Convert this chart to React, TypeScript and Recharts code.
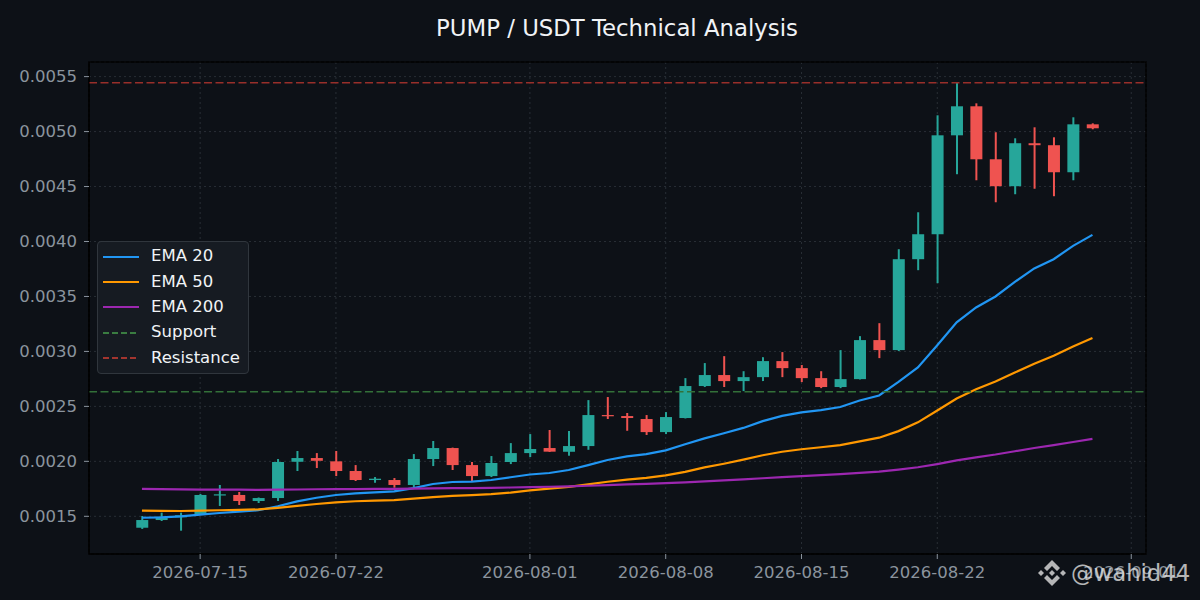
import React from "react"
import {
  ComposedChart, Bar, Line, XAxis, YAxis, CartesianGrid,
  ReferenceLine, ReferenceArea, Legend,
} from "recharts"

document.body.style.margin = "0"
document.body.style.background = "#0d1117"

// daily candles, 2026-07-12 .. 2026-08-30 (x = day index)
const OPEN = [
  0.001396, 0.001466, 0.001491, 0.001521, 0.00169, 0.001694, 0.001639, 0.001666, 0.001996, 0.00203,
  0.002, 0.001912, 0.00183, 0.00183, 0.001785, 0.002021, 0.002121, 0.001966, 0.001866, 0.001994,
  0.002075, 0.002121, 0.002087, 0.002139, 0.002421, 0.002412, 0.002385, 0.002266, 0.002394, 0.002685,
  0.002785, 0.00273, 0.002766, 0.002912, 0.002848, 0.002757, 0.002676, 0.002748, 0.003103, 0.003012,
  0.003839, 0.004066, 0.004966, 0.00523, 0.004748, 0.004503, 0.004894, 0.004876, 0.00463, 0.005066,
]
const HIGH = [
  0.001503, 0.001533, 0.001533, 0.001703, 0.001785, 0.001721, 0.001671, 0.002021, 0.002094, 0.002075,
  0.002094, 0.001966, 0.001857, 0.001848, 0.002066, 0.002185, 0.002125, 0.001994, 0.002048, 0.002166,
  0.002248, 0.002285, 0.002276, 0.002557, 0.002585, 0.00244, 0.002421, 0.002448, 0.002757, 0.002894,
  0.002957, 0.00282, 0.002948, 0.002994, 0.002876, 0.00282, 0.003012, 0.003139, 0.003257, 0.00393,
  0.004266, 0.005148, 0.005448, 0.005257, 0.004994, 0.004939, 0.005039, 0.004948, 0.00513, 0.005075,
]
const LOW = [
  0.001385, 0.001457, 0.001369, 0.001516, 0.001594, 0.001603, 0.001621, 0.001639, 0.001912, 0.001939,
  0.001866, 0.001821, 0.001805, 0.00176, 0.001766, 0.001957, 0.001921, 0.001821, 0.001857, 0.001975,
  0.002039, 0.002085, 0.002051, 0.002105, 0.002385, 0.002278, 0.00224, 0.002248, 0.00239, 0.002676,
  0.002676, 0.002639, 0.00273, 0.002766, 0.002721, 0.002666, 0.002666, 0.002745, 0.002939, 0.003003,
  0.003739, 0.003621, 0.004612, 0.004557, 0.004357, 0.00443, 0.00448, 0.004412, 0.004557, 0.005021,
]
const CLOSE = [
  0.001466, 0.001496, 0.001509, 0.001694, 0.0017, 0.001639, 0.001666, 0.001994, 0.00203, 0.002005,
  0.001912, 0.00183, 0.001842, 0.001785, 0.002021, 0.002121, 0.001966, 0.001866, 0.001985, 0.002075,
  0.002112, 0.002088, 0.002139, 0.002421, 0.002412, 0.002394, 0.002266, 0.002403, 0.002685, 0.002785,
  0.00273, 0.002766, 0.002912, 0.002848, 0.002757, 0.002676, 0.002748, 0.003103, 0.003012, 0.003839,
  0.004066, 0.004966, 0.00523, 0.004748, 0.004503, 0.004894, 0.004876, 0.00463, 0.005066, 0.00503,
]
const EMA20 = [
  0.001487, 0.001491, 0.0015, 0.001515, 0.00153, 0.001542, 0.001555, 0.001591, 0.001636, 0.001669,
  0.001694, 0.001709, 0.001718, 0.001727, 0.001757, 0.001794, 0.001812, 0.001815, 0.00183, 0.001855,
  0.00188, 0.001894, 0.001921, 0.001966, 0.002012, 0.002045, 0.002066, 0.0021, 0.002155, 0.002209,
  0.002256, 0.002304, 0.002366, 0.002413, 0.002445, 0.002466, 0.002494, 0.002554, 0.002599, 0.002723,
  0.002855, 0.003057, 0.003264, 0.0034, 0.0035, 0.003633, 0.003755, 0.003839, 0.00396, 0.00406,
]
const EMA50 = [
  0.001551, 0.001549, 0.001548, 0.001551, 0.001555, 0.001558, 0.001563, 0.001577, 0.001594, 0.001612,
  0.001627, 0.001637, 0.001642, 0.001648, 0.00166, 0.001675, 0.001686, 0.001693, 0.001702, 0.001716,
  0.001735, 0.001752, 0.001768, 0.001791, 0.001814, 0.001834, 0.00185, 0.001872, 0.001904, 0.001945,
  0.001978, 0.002015, 0.002055, 0.002087, 0.00211, 0.002128, 0.002148, 0.002182, 0.002215, 0.002275,
  0.002355, 0.002462, 0.002572, 0.002655, 0.002727, 0.002808, 0.002888, 0.00296, 0.003045, 0.003122,
]
const EMA200 = [
  0.00175, 0.001747, 0.001745, 0.001743, 0.001743, 0.001742, 0.001741, 0.001742, 0.001744, 0.001746,
  0.001747, 0.001748, 0.001749, 0.001749, 0.001751, 0.001754, 0.001756, 0.001757, 0.001759, 0.001762,
  0.001766, 0.001769, 0.001773, 0.001778, 0.001784, 0.00179, 0.001795, 0.001801, 0.001809, 0.001818,
  0.001827, 0.001836, 0.001846, 0.001856, 0.001865, 0.001874, 0.001883, 0.001895, 0.001906, 0.001925,
  0.001946, 0.001975, 0.002008, 0.002036, 0.002062, 0.002092, 0.002121, 0.002147, 0.002176, 0.002204,
]
const SUPPORT = 0.002633
const RESISTANCE = 0.005445

const TICK_DAYS = [3, 10, 20, 27, 34, 41, 51]
const TICK_LABELS = ["2026-07-15", "2026-07-22", "2026-08-01", "2026-08-08", "2026-08-15", "2026-08-22", "2026-09-01"]
const Y_TICKS = [0.0015, 0.002, 0.0025, 0.003, 0.0035, 0.004, 0.0045, 0.005, 0.0055]

const LEGEND = [
  { name: "EMA 20", color: "#2196f3", dashed: false },
  { name: "EMA 50", color: "#ff9800", dashed: false },
  { name: "EMA 200", color: "#9c27b0", dashed: false },
  { name: "Support", color: "#3a7d41", dashed: true },
  { name: "Resistance", color: "#a3352f", dashed: true },
]

const data = OPEN.map((o, i) => ({
  day: i, open: o, high: HIGH[i], low: LOW[i], close: CLOSE[i],
  ema20: EMA20[i], ema50: EMA50[i], ema200: EMA200[i],
}))

const X_DOMAIN: [number, number] = [-2.73, 51.76]
const Y_DOMAIN: [number, number] = [0.001157, 0.005633]
const FONT = "DejaVu Sans, sans-serif"
const TICK_COLOR = "#8b949e"

function Candle(props: any) {
  const { x, y, width, height, payload } = props
  const { open, close, high, low } = payload
  const top = Math.min(y, y + height)
  const h = Math.abs(height)
  const k = h / (high - low)
  const py = (v: number) => top + (high - v) * k
  const color = close >= open ? "#26a69a" : "#ef5350"
  const cx = x + width / 2
  const bTop = py(Math.max(open, close))
  const bBot = py(Math.min(open, close))
  return (
    <g>
      <line x1={cx} x2={cx} y1={top} y2={top + h} stroke={color} strokeWidth={2} />
      <rect x={x} y={bTop} width={width} height={Math.max(bBot - bTop, 1.2)} fill={color} />
    </g>
  )
}

function LegendBox() {
  return (
    <div style={{
      width: 150, height: 129, background: "#161b22", border: "1px solid #30363d",
      borderRadius: 4, paddingTop: 2, boxSizing: "content-box", fontFamily: FONT,
    }}>
      {LEGEND.map((it) => (
        <div key={it.name} style={{ display: "flex", alignItems: "center", height: 25.3 }}>
          <svg width={48} height={6} style={{ marginLeft: 5, marginRight: 0 }}>
            <line x1={0} x2={36} y1={3} y2={3} stroke={it.color} strokeWidth={2.2}
              strokeDasharray={it.dashed ? "6 3" : undefined} />
          </svg>
          <span style={{ color: "#f0f3f6", fontSize: 16.5, lineHeight: 1 }}>{it.name}</span>
        </div>
      ))}
    </div>
  )
}

export default function App() {
  return (
    <div style={{ position: "relative", width: 1200, height: 600, background: "#0d1117" }}>
      <ComposedChart width={1200} height={600} data={data}
        margin={{ top: 62, right: 54, bottom: 0, left: 0 }}>
        <CartesianGrid stroke="#30363d" strokeDasharray="2 3" strokeOpacity={0.8} />
        <XAxis
          dataKey="day" type="number" domain={X_DOMAIN} allowDataOverflow
          ticks={TICK_DAYS} interval={0} height={46}
          tickFormatter={(v) => TICK_LABELS[TICK_DAYS.indexOf(v)]}
          tick={{ fontSize: 16.5, fill: TICK_COLOR, fontFamily: FONT }}
          axisLine={{ stroke: "#000" }} tickLine={{ stroke: TICK_COLOR }}
          tickSize={5} tickMargin={7}
        />
        <YAxis
          type="number" domain={Y_DOMAIN} allowDataOverflow ticks={Y_TICKS} width={89}
          tickFormatter={(v) => v.toFixed(4)}
          tick={{ fontSize: 16.5, fill: TICK_COLOR, fontFamily: FONT }}
          axisLine={{ stroke: "#000" }} tickLine={{ stroke: TICK_COLOR }}
          tickSize={5} tickMargin={7}
        />
        <Bar dataKey={(d: any) => [d.low, d.high]} barSize={12} shape={Candle} isAnimationActive={false} />
        <Line dataKey="ema20" stroke="#2196f3" strokeWidth={2.2} dot={false} activeDot={false} isAnimationActive={false} />
        <Line dataKey="ema50" stroke="#ff9800" strokeWidth={2.2} dot={false} activeDot={false} isAnimationActive={false} />
        <Line dataKey="ema200" stroke="#9c27b0" strokeWidth={2.2} dot={false} activeDot={false} isAnimationActive={false} />
        <ReferenceLine y={SUPPORT} stroke="#337039" strokeWidth={1.5} strokeDasharray="8 3.5" />
        <ReferenceLine y={RESISTANCE} stroke="#982f2a" strokeWidth={1.5} strokeDasharray="8 3.5" />
        <ReferenceArea x1={X_DOMAIN[0]} x2={X_DOMAIN[1]} y1={Y_DOMAIN[0]} y2={Y_DOMAIN[1]}
          fill="none" stroke="#000" strokeWidth={1.5} />
        <Legend layout="vertical" align="center" verticalAlign="middle"
          wrapperStyle={{ left: 97, top: 241, width: "auto", height: "auto" }} content={() => <LegendBox />} />
      </ComposedChart>
      <svg width={1200} height={600} style={{ position: "absolute", left: 0, top: 0, pointerEvents: "none" }}>
        <text x={617} y={36} textAnchor="middle" fill="#f0f3f6" fontSize={22.8} fontFamily={FONT}>
          PUMP / USDT Technical Analysis
        </text>
        <g fill="#e0e0e0" opacity={0.8}>
          <polygon points="1052,560 1060,568 1057,571 1052,566 1047,571 1044,568" />
          <polygon points="1052,586 1060,578 1057,575 1052,580 1047,575 1044,578" />
          <polygon points="1041,570 1044,573 1041,576 1038,573" />
          <polygon points="1063,570 1066,573 1063,576 1060,573" />
          <polygon points="1052,570 1055,573 1052,576 1049,573" />
          <text x={1071} y={581} fontSize={22.7} fontFamily={FONT}>@wahid44</text>
        </g>
      </svg>
    </div>
  )
}
